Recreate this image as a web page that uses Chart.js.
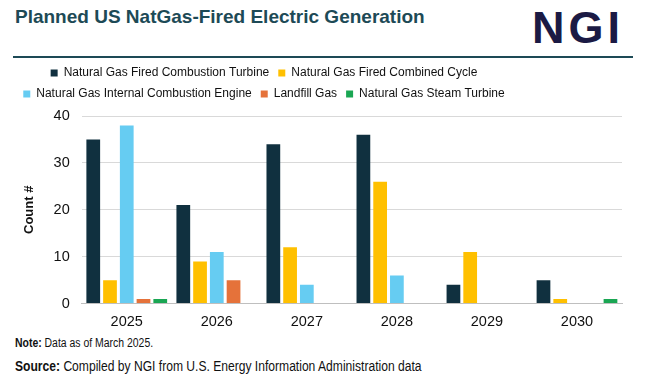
<!DOCTYPE html>
<html>
<head>
<meta charset="utf-8">
<script src="https://cdn.jsdelivr.net/npm/chart.js@4"></script>
<style>
  body { margin: 0; background: #fff; width: 648px; height: 380px; overflow: hidden; position: relative;
         font-family: "Liberation Sans", Arial, sans-serif; }
  #title { position: absolute; left: 15px; top: 6px; font-size: 19px; font-weight: bold; color: #1d4a56; white-space: nowrap; }
  #logo { position: absolute; left: 532px; top: 2px; font-size: 45px; font-weight: bold; color: #1b1a44; letter-spacing: 4px; }
  #rule { position: absolute; left: 13px; top: 56px; width: 620px; height: 2px; background: #1d4a56; }
  #wrap { position: absolute; left: 0; top: 58px; width: 648px; height: 275px; }
  #note { position: absolute; left: 15px; top: 336px; font-size: 12px; color: #111; white-space: nowrap;
          transform: scaleX(0.87); transform-origin: 0 0; }
  #source { position: absolute; left: 15px; top: 357px; font-size: 15.5px; color: #111; white-space: nowrap;
            transform: scaleX(0.78); transform-origin: 0 0; }
</style>
</head>
<body>
<div id="title">Planned US NatGas-Fired Electric Generation</div>
<div id="logo">NGI</div>
<div id="rule"></div>
<div id="wrap"><canvas id="chart"></canvas></div>
<div id="note"><b>Note:</b> Data as of March 2025.</div>
<div id="source"><b>Source:</b> Compiled by NGI from U.S. Energy Information Administration data</div>
<script>
const years = ['2025', '2026', '2027', '2028', '2029', '2030'];
const combustionTurbine = [35, 21, 34, 36, 4, 5];
const combinedCycle = [5, 9, 12, 26, 11, 1];
const internalCombustion = [38, 11, 4, 6, 0, 0];
const landfillGas = [1, 5, 0, 0, 0, 0];
const steamTurbine = [1, 0, 0, 0, 0, 1];
const yTicks = [0, 10, 20, 30, 40];

const sans = '"Liberation Sans", Arial, sans-serif';

function bars(label, data, color) {
    return {
        label: label,
        data: data,
        backgroundColor: color,
        borderWidth: 0,
        categoryPercentage: 0.93,
        barPercentage: 0.82,
    };
}

// a bit of room under the legend, and the legend sits left of centre
const legendTweak = {
    id: 'legendTweak',
    beforeInit(chart) {
        const fit = chart.legend.fit;
        chart.legend.fit = function () {
            fit.bind(chart.legend)();
            this.height += 6;
        };
    },
    afterLayout(chart) {
        chart.legend.left -= 56;
        chart.legend.right -= 56;
    }
};

const ctx = document.getElementById('chart').getContext('2d');
const chart = new Chart(ctx, {
    type: 'bar',
    data: {
        labels: years,
        datasets: [
            bars('Natural Gas Fired Combustion Turbine', combustionTurbine, '#10303f'),
            bars('Natural Gas Fired Combined Cycle', combinedCycle, '#ffc000'),
            bars('Natural Gas Internal Combustion Engine', internalCombustion, '#66ccf2'),
            bars('Landfill Gas', landfillGas, '#e5723a'),
            bars('Natural Gas Steam Turbine', steamTurbine, '#1aa653'),
        ]
    },
    options: {
        responsive: true,
        maintainAspectRatio: false,
        animation: false,
        layout: { padding: { left: 18, right: 26, top: 0, bottom: 0 } },
        plugins: {
            legend: {
                position: 'top',
                labels: {
                    boxWidth: 7,
                    boxHeight: 7,
                    padding: 9,
                    color: '#111',
                    font: { family: sans, size: 12 },
                }
            },
            tooltip: { enabled: false },
        },
        scales: {
            x: {
                grid: { display: false },
                border: { color: '#bfbfbf' },
                ticks: { color: '#111', padding: 2, font: { family: sans, size: 14.5 } },
            },
            y: {
                min: 0,
                max: 40,
                afterBuildTicks: (scale) => { scale.ticks = yTicks.map(v => ({ value: v })); },
                grid: { color: '#d9d9d9', drawTicks: false },
                border: { display: false },
                ticks: { color: '#111', padding: 12, font: { family: sans, size: 14.5 } },
                title: { display: true, text: 'Count #', color: '#111', font: { family: sans, size: 13, weight: 'bold' } },
            }
        }
    },
    plugins: [legendTweak]
});
</script>
</body>
</html>
